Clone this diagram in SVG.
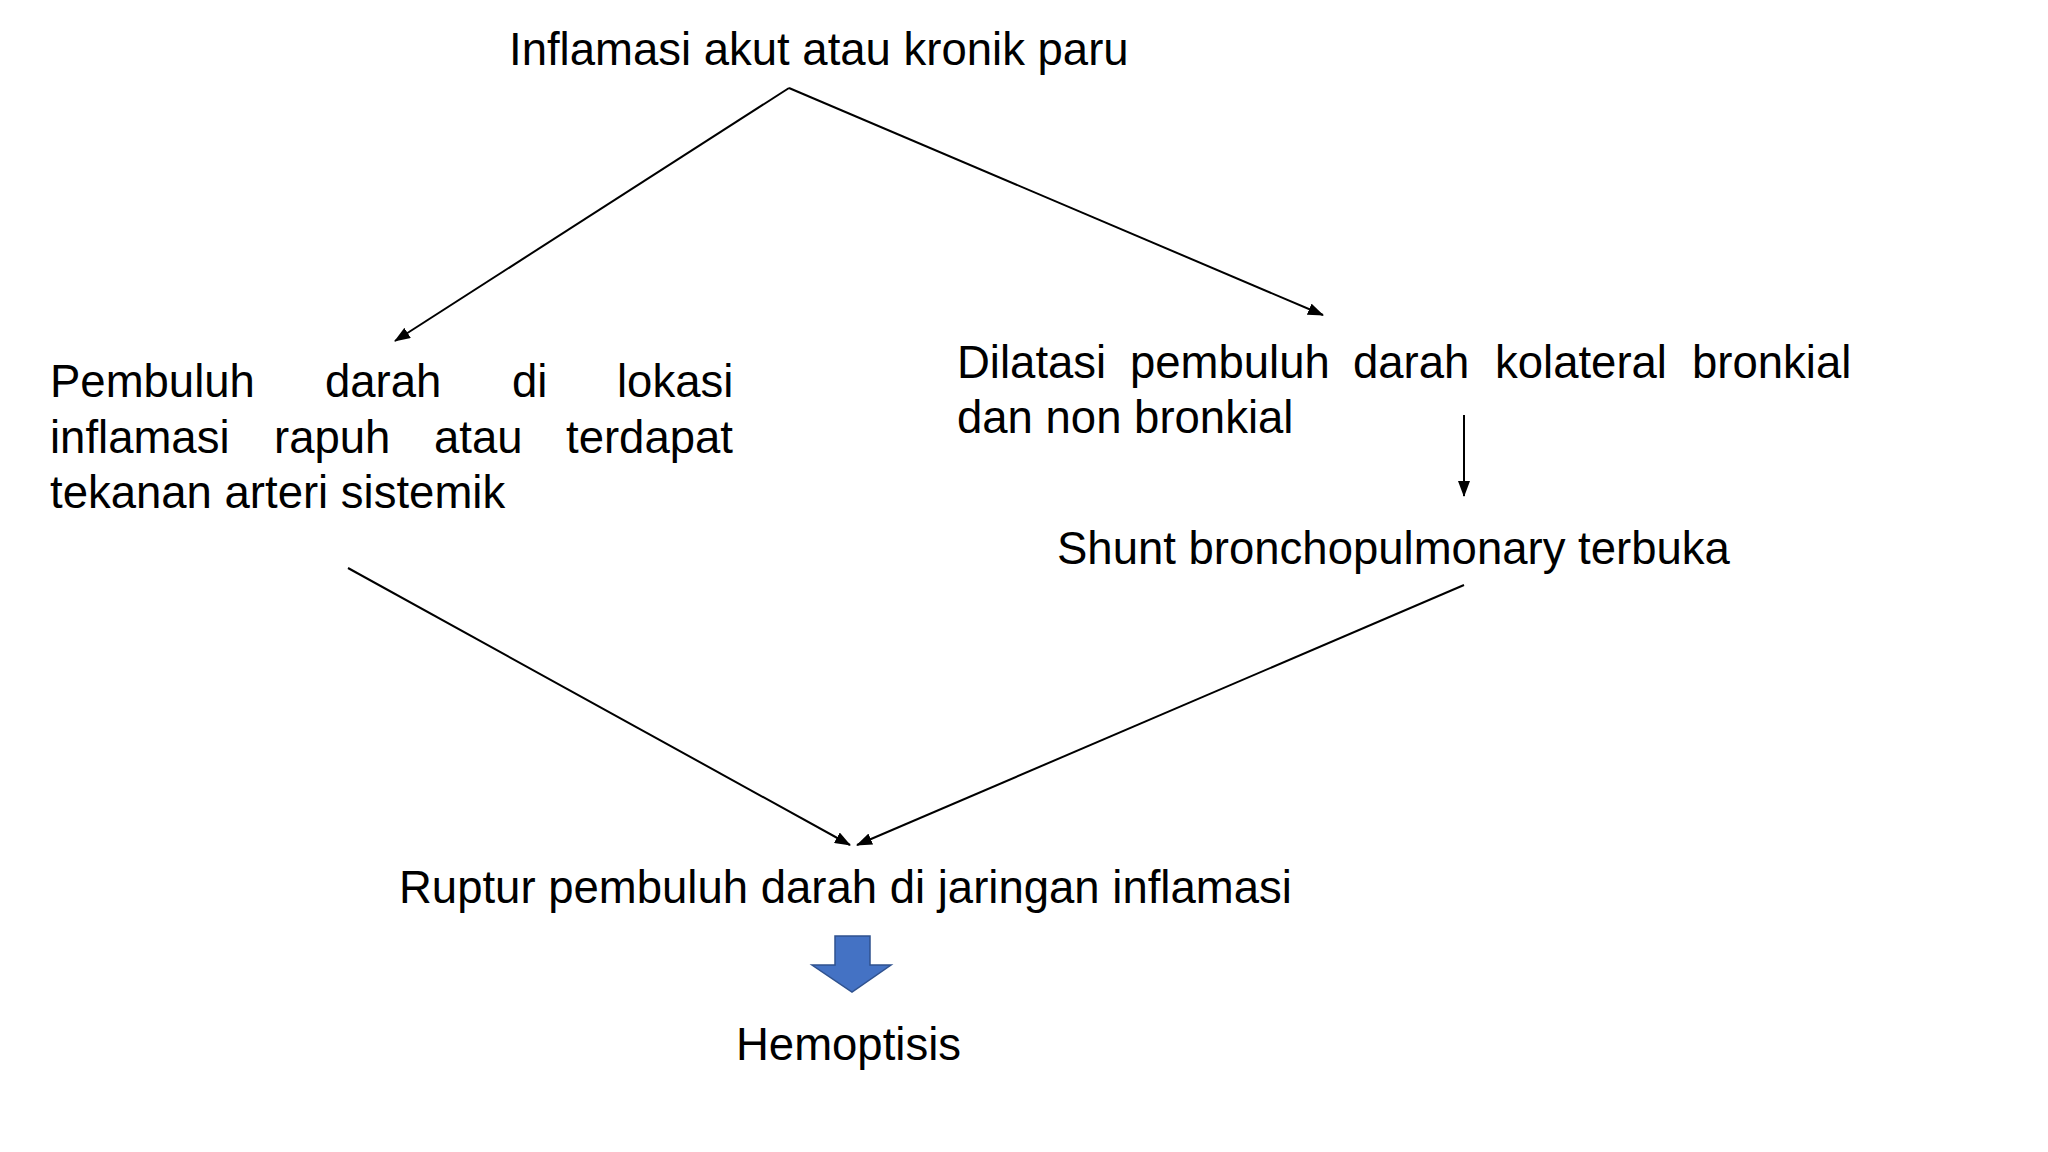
<svg xmlns="http://www.w3.org/2000/svg" width="2048" height="1152" viewBox="0 0 2048 1152">
<style>
text{font-family:"Liberation Sans",Arial,sans-serif;font-size:45.5px;fill:#000}
.c{stroke:#000;stroke-width:2;fill:none;marker-end:url(#a)}
</style>
<defs><marker id="a" markerWidth="16" markerHeight="12" refX="15" refY="6" orient="auto" markerUnits="userSpaceOnUse"><path d="M0,0L16,6L0,12z" fill="#000"/></marker></defs>
<rect width="2048" height="1152" fill="#fff"/>
<g transform="translate(-3,-3)">
<g id="n1"><text x="512" y="68">Inflamasi akut atau kronik paru</text></g>
<g id="n2"><text y="400"><tspan x="53">Pembuluh</tspan><tspan x="328">darah</tspan><tspan x="515">di</tspan><tspan x="620">lokasi</tspan></text>
<text y="456"><tspan x="53">inflamasi</tspan><tspan x="277">rapuh</tspan><tspan x="437">atau</tspan><tspan x="569">terdapat</tspan></text>
<text x="53" y="511">tekanan arteri sistemik</text></g>
<g id="n3"><text y="381"><tspan x="960">Dilatasi</tspan><tspan x="1133">pembuluh</tspan><tspan x="1356">darah</tspan><tspan x="1498">kolateral</tspan><tspan x="1695">bronkial</tspan></text>
<text x="960" y="436">dan non bronkial</text></g>
<g id="n4"><text x="1060" y="567">Shunt bronchopulmonary terbuka</text></g>
<g id="n5"><text x="402" y="906">Ruptur pembuluh darah di jaringan inflamasi</text></g>
<g id="n6"><text x="739" y="1063">Hemoptisis</text></g>
<g id="connectors">
<path class="c" d="M792,91L398,344"/>
<path class="c" d="M792,91L1326,318"/>
<path class="c" d="M1467,418L1467,499"/>
<path class="c" d="M351,571L853,848"/>
<path class="c" d="M1467,588L860,848"/>
<path d="M838,939H873V968H894L855,995L815,968H838Z" fill="#4472C4" stroke="#2F528F" stroke-width="1.5"/>
</g>
</g>
</svg>
